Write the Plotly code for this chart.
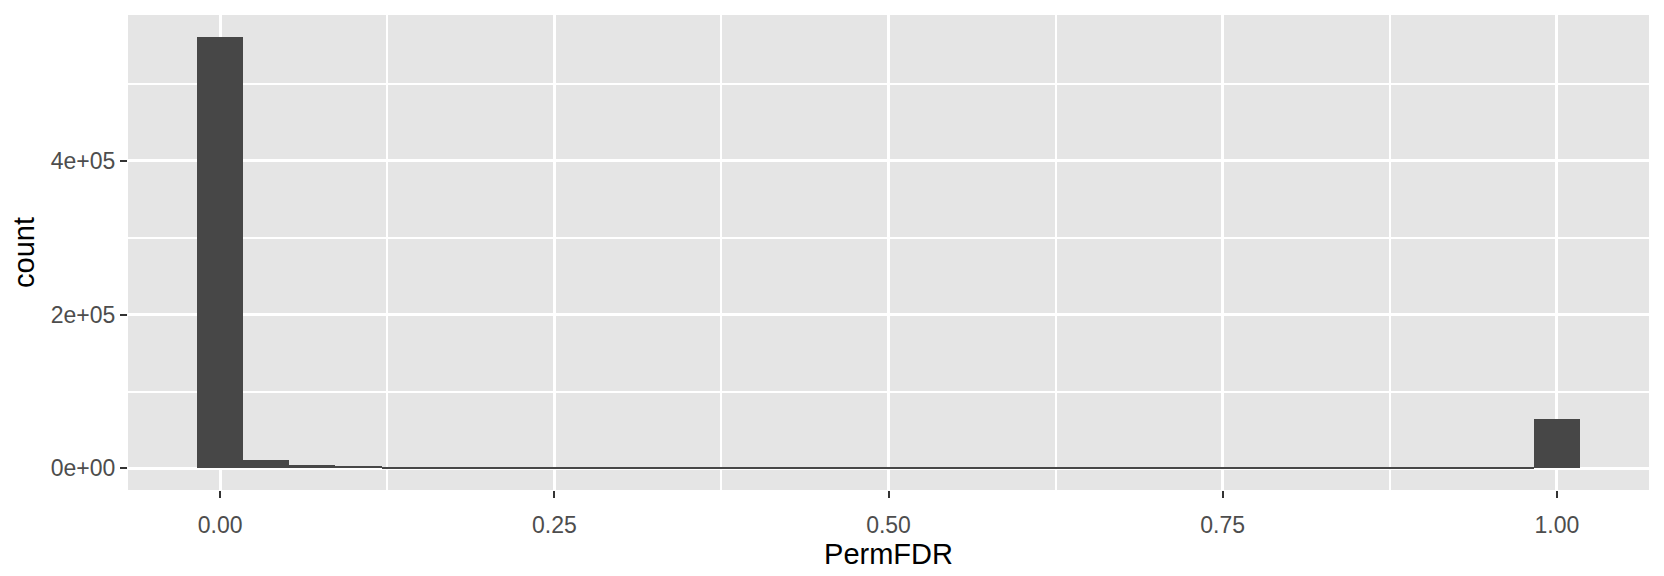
import numpy as np
import plotly.graph_objects as go

# --- data: ggplot histogram of PermFDR, 30 bins over [0, 1] ---
n_bins = 30
bin_width = 1 / (n_bins - 1)
bin_centers = np.arange(n_bins) * bin_width

counts = [
    561700, 10400, 4800, 3500, 2400, 2000, 1400, 1300, 1250, 1200,
    1150, 1150, 1100, 1100, 1100, 1050, 1050, 1050, 1000, 1000,
    1000, 1000, 1000, 1000, 1000, 1000, 1000, 1000, 1000, 64900,
]

x_tickvals = [0, 0.25, 0.5, 0.75, 1.0]
x_ticktext = ["0.00", "0.25", "0.50", "0.75", "1.00"]
x_minor = [0.125, 0.375, 0.625, 0.875]
y_tickvals = [0, 200000, 400000]
y_ticktext = ["0e+00", "2e+05", "4e+05"]
y_minor = [100000, 300000, 500000]

# ggplot default 5% expansion
x_lo, x_hi = -bin_width / 2, 1 + bin_width / 2
x_pad = (x_hi - x_lo) * 0.05
y_pad = max(counts) * 0.05

FONT = "Liberation Sans, Arial, Helvetica, sans-serif"

fig = go.Figure()
fig.add_trace(go.Bar(
    x=bin_centers, y=counts, width=bin_width,
    marker=dict(color="#474747", line=dict(width=0)),
    showlegend=False,
))

# page body adds an 8px margin, so size / margins are trimmed by that
fig.update_layout(
    width=1656, height=568,
    margin=dict(l=120, r=15, t=7, b=86),
    paper_bgcolor="white",
    plot_bgcolor="#E5E5E5",
    bargap=0,
    font=dict(family=FONT),
)

fig.update_xaxes(
    range=[x_lo - x_pad, x_hi + x_pad],
    tickvals=x_tickvals, ticktext=x_ticktext,
    showgrid=True, gridcolor="white", gridwidth=3,
    zeroline=False, showline=False,
    ticks="outside", ticklen=7, tickwidth=2, tickcolor="#333333",
    ticklabelstandoff=7,
    tickfont=dict(size=23, color="#4D4D4D"),
    minor=dict(tickvals=x_minor, showgrid=True, gridcolor="white", gridwidth=1.5, ticks=""),
    title=dict(text="PermFDR", font=dict(size=29, color="black"), standoff=0),
)
fig.update_yaxes(
    range=[-y_pad, max(counts) + y_pad],
    tickvals=y_tickvals, ticktext=y_ticktext,
    showgrid=True, gridcolor="white", gridwidth=3,
    zeroline=False, showline=False,
    ticks="outside", ticklen=7, tickwidth=2, tickcolor="#333333",
    tickfont=dict(size=23, color="#4D4D4D"),
    minor=dict(tickvals=y_minor, showgrid=True, gridcolor="white", gridwidth=1.5, ticks=""),
    title=dict(text="count", font=dict(size=29, color="black"), standoff=7),
)

fig.write_html("out.html")
